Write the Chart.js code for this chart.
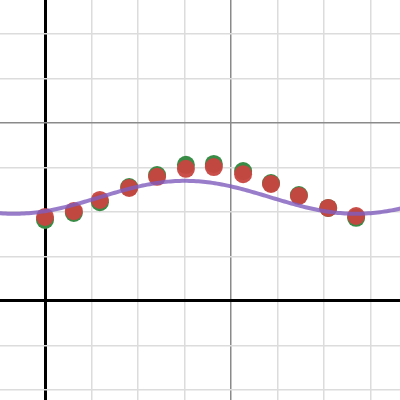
<!DOCTYPE html>
<html>
<head>
<meta charset="UTF-8">
<title>Sinusoid fit</title>
<style>
  body { margin: 0; background: #ffffff; }
  canvas { display: block; }
</style>
</head>
<body>
<canvas id="c" width="400" height="400"></canvas>
<script src="https://cdn.jsdelivr.net/npm/chart.js"></script>
<script>
// point positions (grid units, one minor gridline = 1)
const xs = [0, 0.62, 1.18, 1.81, 2.41, 3.03, 3.63, 4.26, 4.86, 5.46, 6.09, 6.69];
const redY = [1.89, 2.02, 2.27, 2.54, 2.79, 2.97, 3.01, 2.85, 2.63, 2.36, 2.09, 1.91];
const greenY = [1.82, 1.98, 2.22, 2.56, 2.83, 3.06, 3.08, 2.92, 2.65, 2.38, 2.09, 1.87];
const xGrid = [-0, 1, 2, 3, 4, 5, 6, 7];
const yGrid = [-2, -1, 0, 1, 2, 3, 4, 5, 6];

// fitted cosine: mid + amp * cos(2π (x - peak) / period)
const curveMid = 2.33, curveAmp = 0.37, curvePeak = 3.01, curvePeriod = 7.35;
const curve = [];
for (let x = -1; x <= 7.7; x += 0.05) {
    curve.push({ x: x, y: curveMid + curveAmp * Math.cos(2 * Math.PI * (x - curvePeak) / curvePeriod) });
}

function gridColor(ctx) {
    const v = ctx.tick.value;
    if (v === 0) return '#000000';
    if (v % 4 === 0) return '#8a8a8a';
    return '#dcdcdc';
}
function gridWidth(ctx) {
    return ctx.tick.value === 0 ? 3 : 1.5;
}

new Chart(document.getElementById('c'), {
    type: 'scatter',
    data: {
        datasets: [
            { type: 'line', data: curve, borderColor: 'rgba(127,92,190,0.8)', borderWidth: 4,
              pointRadius: 0, tension: 0, order: 0 },
            { data: xs.map((x, i) => ({ x: x, y: redY[i] })), backgroundColor: 'rgba(199,68,64,0.95)',
              pointRadius: 9, borderWidth: 0, order: 1 },
            { data: xs.map((x, i) => ({ x: x, y: greenY[i] })), backgroundColor: '#388c46',
              pointRadius: 9, borderWidth: 0, order: 2 }
        ]
    },
    options: {
        responsive: false,
        animation: false,
        layout: { padding: 0, autoPadding: false },
        plugins: { legend: { display: false }, tooltip: { enabled: false } },
        scales: {
            x: { type: 'linear', min: -0.968, max: 7.634,
                 afterBuildTicks: s => { s.ticks = xGrid.map(v => ({ value: v })); },
                 ticks: { display: false, padding: 0 },
                 border: { display: false },
                 grid: { color: gridColor, lineWidth: gridWidth, drawTicks: false } },
            y: { type: 'linear', min: -2.225, max: 6.764,
                 afterBuildTicks: s => { s.ticks = yGrid.map(v => ({ value: v })); },
                 ticks: { display: false, padding: 0 },
                 border: { display: false },
                 grid: { color: gridColor, lineWidth: gridWidth, drawTicks: false } }
        }
    }
});
</script>
</body>
</html>
